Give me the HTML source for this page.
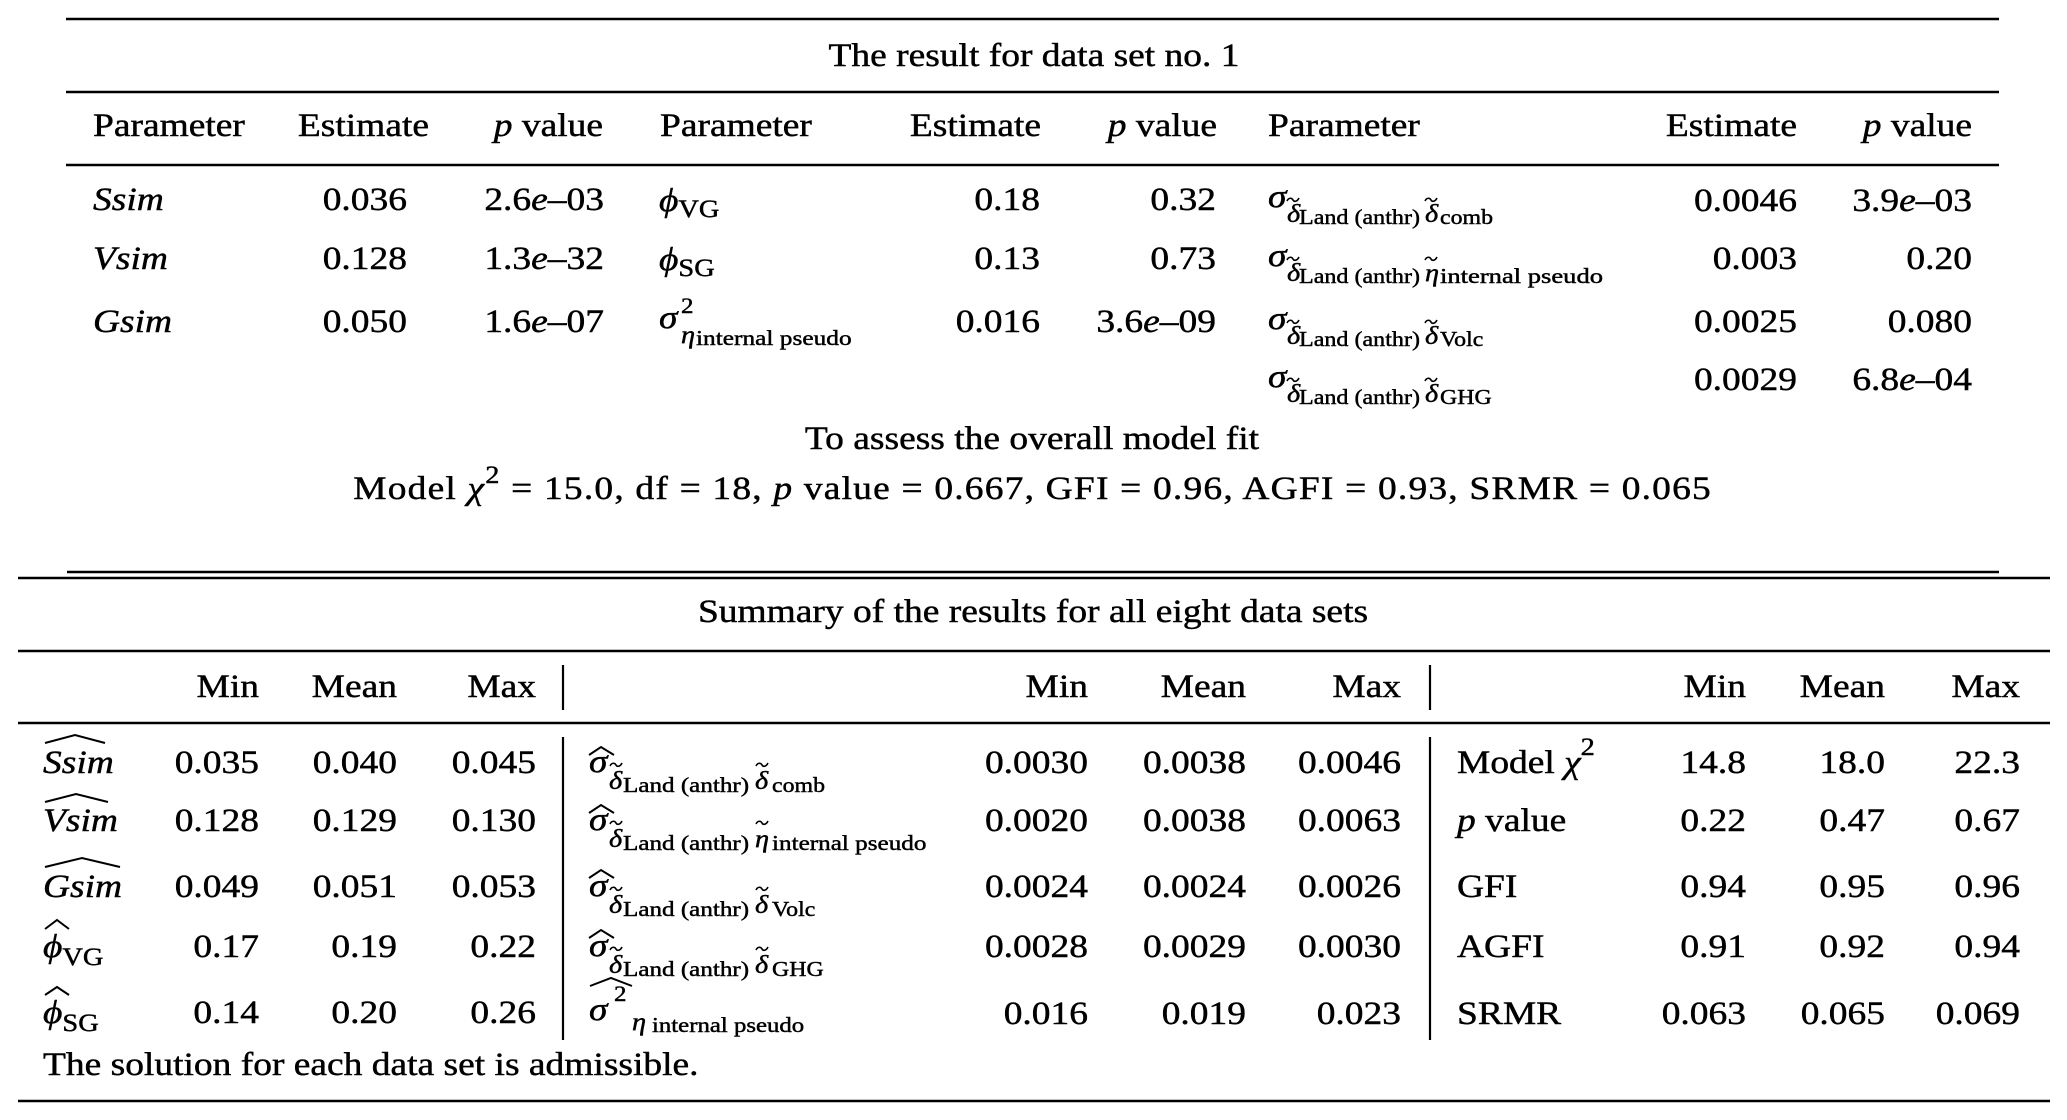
<!DOCTYPE html>
<html>
<head>
<meta charset="utf-8">
<style>
html,body{margin:0;padding:0;background:#fff;}
svg{display:block;}
text{font-family:"Liberation Serif","DejaVu Serif",serif;font-size:33px;fill:#000;stroke:#000;stroke-width:0.45px;}
.e{text-anchor:end;}
.m{text-anchor:middle;}
.i{font-style:italic;}
.s{font-size:25px;}
.ss{font-size:21px;}
line,polyline,path{stroke:#000;fill:none;}
</style>
</head>
<body>
<svg width="2067" height="1120" viewBox="0 0 2067 1120" xmlns="http://www.w3.org/2000/svg">
<rect width="2067" height="1120" fill="#fff"/>

<!-- ===== Table 1 rules ===== -->
<line x1="66" y1="19" x2="1999" y2="19" stroke-width="2.4"/>
<line x1="66" y1="92" x2="1999" y2="92" stroke-width="2.4"/>
<line x1="66" y1="165" x2="1999" y2="165" stroke-width="2.4"/>
<line x1="67" y1="572" x2="1999" y2="572" stroke-width="2.4"/>

<text class="m" transform="translate(1034 66) scale(1.136 1)">The result for data set no. 1</text>

<!-- header -->
<text transform="translate(93 136) scale(1.136 1)">Parameter</text>
<text class="e" transform="translate(429 136) scale(1.136 1)">Estimate</text>
<text class="e" transform="translate(603 136) scale(1.136 1)"><tspan class="i">p</tspan> value</text>
<text transform="translate(660 136) scale(1.136 1)">Parameter</text>
<text class="e" transform="translate(1041 136) scale(1.136 1)">Estimate</text>
<text class="e" transform="translate(1217 136) scale(1.136 1)"><tspan class="i">p</tspan> value</text>
<text transform="translate(1268 136) scale(1.136 1)">Parameter</text>
<text class="e" transform="translate(1797 136) scale(1.136 1)">Estimate</text>
<text class="e" transform="translate(1972 136) scale(1.136 1)"><tspan class="i">p</tspan> value</text>

<!-- col1 -->
<text class="i" transform="translate(93 210) scale(1.136 1)">Ssim</text>
<text class="i" transform="translate(93 269) scale(1.136 1)">Vsim</text>
<text class="i" transform="translate(93 332) scale(1.136 1)">Gsim</text>
<text class="e" transform="translate(407 210) scale(1.136 1)">0.036</text>
<text class="e" transform="translate(407 269) scale(1.136 1)">0.128</text>
<text class="e" transform="translate(407 332) scale(1.136 1)">0.050</text>
<text class="e" transform="translate(604 210) scale(1.136 1)">2.6<tspan class="i">e</tspan>–03</text>
<text class="e" transform="translate(604 269) scale(1.136 1)">1.3<tspan class="i">e</tspan>–32</text>
<text class="e" transform="translate(604 332) scale(1.136 1)">1.6<tspan class="i">e</tspan>–07</text>

<!-- col2 -->
<text transform="translate(659 211) scale(1.136 1)"><tspan class="i">ϕ</tspan><tspan class="s" dy="6">VG</tspan></text>
<text transform="translate(659 270) scale(1.136 1)"><tspan class="i">ϕ</tspan><tspan class="s" dy="6">SG</tspan></text>
<text class="i" transform="translate(659 328) scale(1.136 1)">σ</text>
<text class="s" style="font-size:22px" transform="translate(681 313) scale(1.136 1)">2</text>
<text class="s i" transform="translate(681 343) scale(1.136 1)">η</text>
<text class="ss" transform="translate(696 345) scale(1.136 1)" textLength="137" lengthAdjust="spacingAndGlyphs">internal pseudo</text>
<text class="e" transform="translate(1040 210) scale(1.136 1)">0.18</text>
<text class="e" transform="translate(1040 269) scale(1.136 1)">0.13</text>
<text class="e" transform="translate(1040 332) scale(1.136 1)">0.016</text>
<text class="e" transform="translate(1216 210) scale(1.136 1)">0.32</text>
<text class="e" transform="translate(1216 269) scale(1.136 1)">0.73</text>
<text class="e" transform="translate(1216 332) scale(1.136 1)">3.6<tspan class="i">e</tspan>–09</text>

<!-- col3 labels (table 1) -->
<!-- row 1 B=210 -->
<text class="i" transform="translate(1268 207) scale(1.136 1)">σ</text>
<text class="s i" transform="translate(1287 222) scale(1.136 1)">δ</text>
<text class="ss" transform="translate(1299 224) scale(1.136 1)" textLength="106.5" lengthAdjust="spacingAndGlyphs">Land (anthr)</text>
<text class="s i" transform="translate(1425 222) scale(1.136 1)">δ</text>
<text class="ss" transform="translate(1440 224) scale(1.136 1)">comb</text>
<path d="M1287,201 C1289,197 1292,198 1293,200 S1297,202 1299,198" stroke-width="1.6"/>
<path d="M1425,201 C1427,197 1430,198 1431,200 S1435,202 1437,198" stroke-width="1.6"/>
<!-- row 2 B=269 -->
<text class="i" transform="translate(1268 266) scale(1.136 1)">σ</text>
<text class="s i" transform="translate(1287 281) scale(1.136 1)">δ</text>
<text class="ss" transform="translate(1299 283) scale(1.136 1)" textLength="106.5" lengthAdjust="spacingAndGlyphs">Land (anthr)</text>
<text class="s i" transform="translate(1425 281) scale(1.136 1)">η</text>
<text class="ss" transform="translate(1440 283) scale(1.136 1)" textLength="143.5" lengthAdjust="spacingAndGlyphs">internal pseudo</text>
<path d="M1287,260 C1289,256 1292,257 1293,259 S1297,261 1299,257" stroke-width="1.6"/>
<path d="M1425,260 C1427,256 1430,257 1431,259 S1435,261 1437,257" stroke-width="1.6"/>
<!-- row 3 B=332 -->
<text class="i" transform="translate(1268 329) scale(1.136 1)">σ</text>
<text class="s i" transform="translate(1287 344) scale(1.136 1)">δ</text>
<text class="ss" transform="translate(1299 346) scale(1.136 1)" textLength="106.5" lengthAdjust="spacingAndGlyphs">Land (anthr)</text>
<text class="s i" transform="translate(1425 344) scale(1.136 1)">δ</text>
<text class="ss" transform="translate(1440 346) scale(1.136 1)">Volc</text>
<path d="M1287,323 C1289,319 1292,320 1293,322 S1297,324 1299,320" stroke-width="1.6"/>
<path d="M1425,323 C1427,319 1430,320 1431,322 S1435,324 1437,320" stroke-width="1.6"/>
<!-- row 4 B=390 -->
<text class="i" transform="translate(1268 387) scale(1.136 1)">σ</text>
<text class="s i" transform="translate(1287 402) scale(1.136 1)">δ</text>
<text class="ss" transform="translate(1299 404) scale(1.136 1)" textLength="106.5" lengthAdjust="spacingAndGlyphs">Land (anthr)</text>
<text class="s i" transform="translate(1425 402) scale(1.136 1)">δ</text>
<text class="ss" transform="translate(1440 404) scale(1.136 1)">GHG</text>
<path d="M1287,381 C1289,377 1292,378 1293,380 S1297,382 1299,378" stroke-width="1.6"/>
<path d="M1425,381 C1427,377 1430,378 1431,380 S1435,382 1437,378" stroke-width="1.6"/>

<text class="e" transform="translate(1797 211) scale(1.136 1)">0.0046</text>
<text class="e" transform="translate(1797 269) scale(1.136 1)">0.003</text>
<text class="e" transform="translate(1797 332) scale(1.136 1)">0.0025</text>
<text class="e" transform="translate(1797 390) scale(1.136 1)">0.0029</text>
<text class="e" transform="translate(1972 211) scale(1.136 1)">3.9<tspan class="i">e</tspan>–03</text>
<text class="e" transform="translate(1972 269) scale(1.136 1)">0.20</text>
<text class="e" transform="translate(1972 332) scale(1.136 1)">0.080</text>
<text class="e" transform="translate(1972 390) scale(1.136 1)">6.8<tspan class="i">e</tspan>–04</text>

<!-- fit -->
<text class="m" transform="translate(1032 449) scale(1.136 1)">To assess the overall model fit</text>
<text class="m" transform="translate(1032 499) scale(1.136 1)" textLength="1195" lengthAdjust="spacing">Model <tspan class="i">χ</tspan><tspan class="s" dy="-16">2</tspan><tspan dy="16"> = 15.0, df = 18, </tspan><tspan class="i">p</tspan> value = 0.667, GFI = 0.96, AGFI = 0.93, SRMR = 0.065</text>

<!-- ===== Table 2 ===== -->
<line x1="18" y1="578" x2="2050" y2="578" stroke-width="2.4"/>
<line x1="18" y1="651" x2="2050" y2="651" stroke-width="2.4"/>
<line x1="18" y1="723" x2="2050" y2="723" stroke-width="2.4"/>
<line x1="18" y1="1101" x2="2050" y2="1101" stroke-width="2.4"/>

<line x1="563" y1="665" x2="563" y2="710" stroke-width="2.2"/>
<line x1="563" y1="737" x2="563" y2="1040" stroke-width="2.2"/>
<line x1="1430" y1="665" x2="1430" y2="710" stroke-width="2.2"/>
<line x1="1430" y1="737" x2="1430" y2="1040" stroke-width="2.2"/>

<text class="m" transform="translate(1033 622) scale(1.136 1)">Summary of the results for all eight data sets</text>

<!-- header -->
<text class="e" transform="translate(259 697) scale(1.136 1)">Min</text>
<text class="e" transform="translate(397 697) scale(1.136 1)">Mean</text>
<text class="e" transform="translate(536 697) scale(1.136 1)">Max</text>
<text class="e" transform="translate(1088 697) scale(1.136 1)">Min</text>
<text class="e" transform="translate(1246 697) scale(1.136 1)">Mean</text>
<text class="e" transform="translate(1401 697) scale(1.136 1)">Max</text>
<text class="e" transform="translate(1746 697) scale(1.136 1)">Min</text>
<text class="e" transform="translate(1885 697) scale(1.136 1)">Mean</text>
<text class="e" transform="translate(2020 697) scale(1.136 1)">Max</text>

<!-- col1 labels -->
<polyline points="45,743 75,735 105,743" stroke-width="2"/>
<polyline points="45,802 76,794 108,802" stroke-width="2"/>
<polyline points="45,867 82,858 120,867" stroke-width="2"/>
<polyline points="45,929 57,920 69,929" stroke-width="2"/>
<polyline points="45,995 57,987 69,995" stroke-width="2"/>
<text class="i" transform="translate(43 773) scale(1.136 1)">Ssim</text>
<text class="i" transform="translate(43 831) scale(1.136 1)">Vsim</text>
<text class="i" transform="translate(43 897) scale(1.136 1)">Gsim</text>
<text transform="translate(43 957) scale(1.136 1)"><tspan class="i">ϕ</tspan><tspan class="s" dy="8">VG</tspan></text>
<text transform="translate(43 1023) scale(1.136 1)"><tspan class="i">ϕ</tspan><tspan class="s" dy="8">SG</tspan></text>

<!-- col1 values -->
<text class="e" transform="translate(259 773) scale(1.136 1)">0.035</text>
<text class="e" transform="translate(397 773) scale(1.136 1)">0.040</text>
<text class="e" transform="translate(536 773) scale(1.136 1)">0.045</text>
<text class="e" transform="translate(259 831) scale(1.136 1)">0.128</text>
<text class="e" transform="translate(397 831) scale(1.136 1)">0.129</text>
<text class="e" transform="translate(536 831) scale(1.136 1)">0.130</text>
<text class="e" transform="translate(259 897) scale(1.136 1)">0.049</text>
<text class="e" transform="translate(397 897) scale(1.136 1)">0.051</text>
<text class="e" transform="translate(536 897) scale(1.136 1)">0.053</text>
<text class="e" transform="translate(259 957) scale(1.136 1)">0.17</text>
<text class="e" transform="translate(397 957) scale(1.136 1)">0.19</text>
<text class="e" transform="translate(536 957) scale(1.136 1)">0.22</text>
<text class="e" transform="translate(259 1023) scale(1.136 1)">0.14</text>
<text class="e" transform="translate(397 1023) scale(1.136 1)">0.20</text>
<text class="e" transform="translate(536 1023) scale(1.136 1)">0.26</text>

<!-- col2 labels -->
<polyline points="589,755 601,747 614,755" stroke-width="2"/>
<polyline points="589,813 601,805 614,813" stroke-width="2"/>
<polyline points="589,878 601,870 614,878" stroke-width="2"/>
<polyline points="589,938 601,930 614,938" stroke-width="2"/>
<polyline points="590,986 611,978 632,986" stroke-width="2"/>

<!-- row 1 B=773 -->
<text class="i" transform="translate(589 772) scale(1.136 1)">σ</text>
<text class="s i" transform="translate(609 789) scale(1.136 1)">δ</text>
<text class="ss" transform="translate(623 792) scale(1.136 1)" textLength="111" lengthAdjust="spacingAndGlyphs">Land (anthr)</text>
<text class="s i" transform="translate(755 789) scale(1.136 1)">δ</text>
<text class="ss" transform="translate(772 792) scale(1.136 1)">comb</text>
<path d="M610,766 C612,762 615,763 616,765 S620,767 622,763" stroke-width="1.6"/>
<path d="M756,766 C758,762 761,763 762,765 S766,767 768,763" stroke-width="1.6"/>
<!-- row 2 B=831 -->
<text class="i" transform="translate(589 830) scale(1.136 1)">σ</text>
<text class="s i" transform="translate(609 847) scale(1.136 1)">δ</text>
<text class="ss" transform="translate(623 850) scale(1.136 1)" textLength="111" lengthAdjust="spacingAndGlyphs">Land (anthr)</text>
<text class="s i" transform="translate(755 847) scale(1.136 1)">η</text>
<text class="ss" transform="translate(772 850) scale(1.136 1)" textLength="136" lengthAdjust="spacingAndGlyphs">internal pseudo</text>
<path d="M610,824 C612,820 615,821 616,823 S620,825 622,821" stroke-width="1.6"/>
<path d="M756,824 C758,820 761,821 762,823 S766,825 768,821" stroke-width="1.6"/>
<!-- row 3 B=897 -->
<text class="i" transform="translate(589 896) scale(1.136 1)">σ</text>
<text class="s i" transform="translate(609 913) scale(1.136 1)">δ</text>
<text class="ss" transform="translate(623 916) scale(1.136 1)" textLength="111" lengthAdjust="spacingAndGlyphs">Land (anthr)</text>
<text class="s i" transform="translate(755 913) scale(1.136 1)">δ</text>
<text class="ss" transform="translate(772 916) scale(1.136 1)">Volc</text>
<path d="M610,890 C612,886 615,887 616,889 S620,891 622,887" stroke-width="1.6"/>
<path d="M756,890 C758,886 761,887 762,889 S766,891 768,887" stroke-width="1.6"/>
<!-- row 4 B=957 -->
<text class="i" transform="translate(589 956) scale(1.136 1)">σ</text>
<text class="s i" transform="translate(609 973) scale(1.136 1)">δ</text>
<text class="ss" transform="translate(623 976) scale(1.136 1)" textLength="111" lengthAdjust="spacingAndGlyphs">Land (anthr)</text>
<text class="s i" transform="translate(755 973) scale(1.136 1)">δ</text>
<text class="ss" transform="translate(772 976) scale(1.136 1)">GHG</text>
<path d="M610,950 C612,946 615,947 616,949 S620,951 622,947" stroke-width="1.6"/>
<path d="M756,950 C758,946 761,947 762,949 S766,951 768,947" stroke-width="1.6"/>
<!-- row 5 -->
<text class="i" transform="translate(589 1020) scale(1.136 1)">σ</text>
<text class="s" style="font-size:22px" transform="translate(614 1001) scale(1.136 1)">2</text>
<text class="s i" transform="translate(632 1030) scale(1.136 1)">η</text>
<text class="ss" transform="translate(652 1032) scale(1.136 1)" textLength="134" lengthAdjust="spacingAndGlyphs">internal pseudo</text>

<!-- col2 values -->
<text class="e" transform="translate(1088 773) scale(1.136 1)">0.0030</text>
<text class="e" transform="translate(1246 773) scale(1.136 1)">0.0038</text>
<text class="e" transform="translate(1401 773) scale(1.136 1)">0.0046</text>
<text class="e" transform="translate(1088 831) scale(1.136 1)">0.0020</text>
<text class="e" transform="translate(1246 831) scale(1.136 1)">0.0038</text>
<text class="e" transform="translate(1401 831) scale(1.136 1)">0.0063</text>
<text class="e" transform="translate(1088 897) scale(1.136 1)">0.0024</text>
<text class="e" transform="translate(1246 897) scale(1.136 1)">0.0024</text>
<text class="e" transform="translate(1401 897) scale(1.136 1)">0.0026</text>
<text class="e" transform="translate(1088 957) scale(1.136 1)">0.0028</text>
<text class="e" transform="translate(1246 957) scale(1.136 1)">0.0029</text>
<text class="e" transform="translate(1401 957) scale(1.136 1)">0.0030</text>
<text class="e" transform="translate(1088 1024) scale(1.136 1)">0.016</text>
<text class="e" transform="translate(1246 1024) scale(1.136 1)">0.019</text>
<text class="e" transform="translate(1401 1024) scale(1.136 1)">0.023</text>

<!-- col3 labels -->
<text transform="translate(1457 773) scale(1.136 1)">Model <tspan class="i">χ</tspan><tspan class="s" dy="-18">2</tspan></text>
<text transform="translate(1457 831) scale(1.136 1)"><tspan class="i">p</tspan> value</text>
<text transform="translate(1457 897) scale(1.136 1)">GFI</text>
<text transform="translate(1457 957) scale(1.136 1)">AGFI</text>
<text transform="translate(1457 1024) scale(1.136 1)">SRMR</text>

<!-- col3 values -->
<text class="e" transform="translate(1746 773) scale(1.136 1)">14.8</text>
<text class="e" transform="translate(1885 773) scale(1.136 1)">18.0</text>
<text class="e" transform="translate(2020 773) scale(1.136 1)">22.3</text>
<text class="e" transform="translate(1746 831) scale(1.136 1)">0.22</text>
<text class="e" transform="translate(1885 831) scale(1.136 1)">0.47</text>
<text class="e" transform="translate(2020 831) scale(1.136 1)">0.67</text>
<text class="e" transform="translate(1746 897) scale(1.136 1)">0.94</text>
<text class="e" transform="translate(1885 897) scale(1.136 1)">0.95</text>
<text class="e" transform="translate(2020 897) scale(1.136 1)">0.96</text>
<text class="e" transform="translate(1746 957) scale(1.136 1)">0.91</text>
<text class="e" transform="translate(1885 957) scale(1.136 1)">0.92</text>
<text class="e" transform="translate(2020 957) scale(1.136 1)">0.94</text>
<text class="e" transform="translate(1746 1024) scale(1.136 1)">0.063</text>
<text class="e" transform="translate(1885 1024) scale(1.136 1)">0.065</text>
<text class="e" transform="translate(2020 1024) scale(1.136 1)">0.069</text>

<text transform="translate(43 1075) scale(1.136 1)">The solution for each data set is admissible.</text>
</svg>
</body>
</html>
